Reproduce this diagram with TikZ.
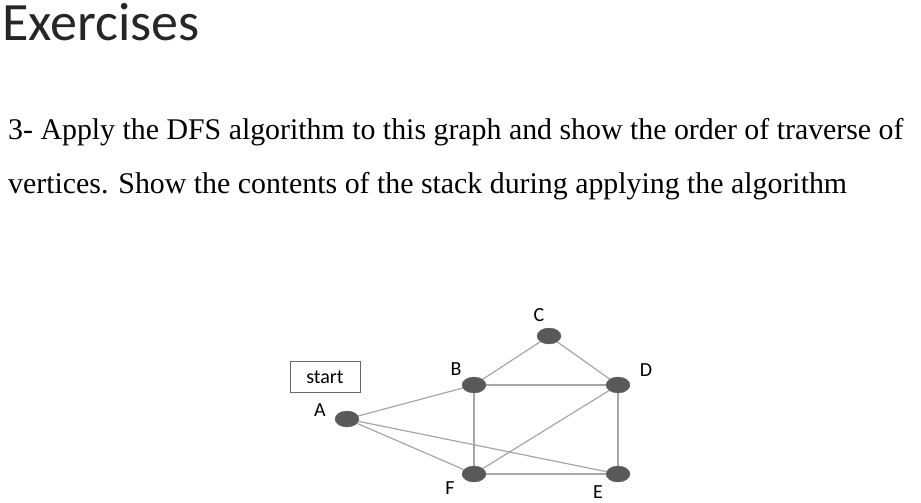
\documentclass[tikz,border=0pt]{standalone}
\usepackage{fontspec}
\setmainfont{Liberation Serif}
\newfontfamily\calibri{Carlito}
\usetikzlibrary{shapes.geometric}
\begin{document}
\begin{tikzpicture}[x=1pt,y=-1pt,
  vertex/.style={ellipse,draw=black!60,fill=black!65,minimum width=24pt,minimum height=16pt,inner sep=0pt},
  tag/.style={font=\calibri\fontsize{20}{20}\selectfont},
  edge/.style={draw=black!35,line width=1.2pt}]
\useasboundingbox (0,0) rectangle (921,503);
\node[anchor=base west,inner sep=0pt,font=\calibri\fontsize{54}{54}\selectfont,text=black!85] (title) at (2,41) {Exercises};
\node[anchor=base west,inner sep=0pt,font=\fontsize{30}{30}\selectfont,xscale=0.995] (line1) at (8,139) {3- Apply the DFS algorithm to this graph and show the order of traverse of};
\node[anchor=base west,inner sep=0pt,font=\fontsize{30}{30}\selectfont,xscale=0.995] (line2) at (8,193) {vertices. Show the contents of the stack during applying the algorithm};
% vertices
\node[vertex] (A) at (347,419) {};
\node[vertex] (B) at (474,385) {};
\node[vertex] (C) at (549,336) {};
\node[vertex] (D) at (618,385) {};
\node[vertex] (E) at (618,474) {};
\node[vertex] (F) at (474,474) {};
\node[tag] at (320,410) {A};
\node[tag] at (456,369) {B};
\node[tag] at (539,315) {C};
\node[tag] at (646,370) {D};
\node[tag] at (598,492) {E};
\node[tag] at (450,488) {F};
\node[draw=black!60,thick,tag,minimum width=70pt,minimum height=31pt] (start) at (325,377) {start};
% edges
\foreach \u/\v in {A/B,A/F,A/E,B/C,C/D,B/D,B/F,D/F,D/E,F/E}
  \draw[edge] (\u) -- (\v);
\end{tikzpicture}
\end{document}
